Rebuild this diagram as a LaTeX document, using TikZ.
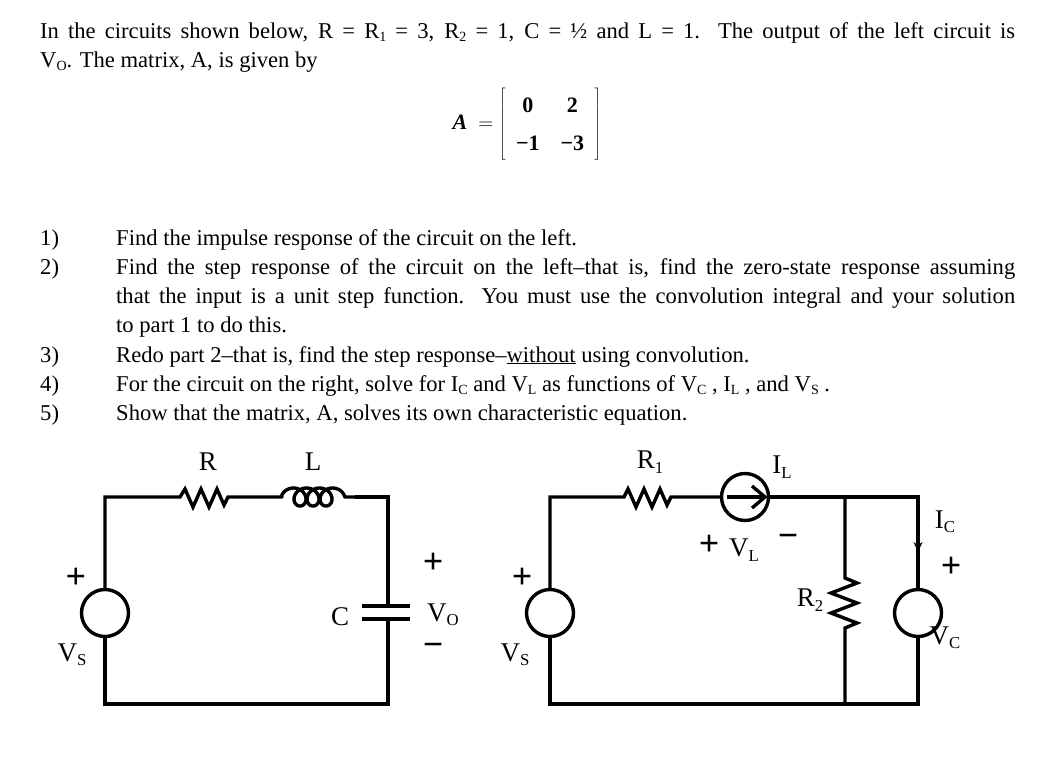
\documentclass[tikz,border=0pt]{standalone}
\usepackage{fontspec}
\setmainfont{Liberation Serif}
\usetikzlibrary{arrows.meta}
\newcommand{\sbs}[1]{\raisebox{-0.35ex}{\scalebox{0.62}{#1}}}
\begin{document}
\begin{tikzpicture}[x=1pt,y=-1pt,
  txt/.style={anchor=base west,inner sep=0pt,font=\fontsize{22.6}{29}\selectfont},
  lbl/.style={inner sep=0pt,font=\fontsize{27}{30}\selectfont},
  sgn/.style={inner sep=0pt,font=\fontsize{36}{36}\selectfont\bfseries},
  wire/.style={line width=3.4pt},
  src/.style={circle,draw,line width=3.4pt,minimum size=47pt,inner sep=0pt}]
\useasboundingbox (0,0) rectangle (1056,763);
% text
\node[txt] (t1) at (40,38) {\makebox[975pt][s]{In the circuits shown below, R = R\sbs{1} = 3, R\sbs{2} = 1, C = ½ and L = 1. The output of the left circuit is}};
\node[txt] (t2) at (40,67) {V\sbs{O}. The matrix, A, is given by};
\node[inner sep=0pt,font=\fontsize{22}{26}\selectfont\bfseries] (mat) at (527,124) {\renewcommand{\arraystretch}{1.45}\textbf{\textit{A}}\ \ $=\left[\ \begin{array}{cc}\textbf{0}\ \ & \textbf{2}\\ \textbf{\textminus1}\ \ & \textbf{\textminus3}\end{array}\ \right]$};
\foreach \n/\y in {1/245,2/274,3/362,4/391,5/420}{\node[txt] (n\n) at (40,\y) {\n)};}
\node[txt] (i1) at (116,245) {Find the impulse response of the circuit on the left.};
\node[txt] (i2a) at (116,274) {\makebox[899pt][s]{Find the step response of the circuit on the left–that is, find the zero-state response assuming}};
\node[txt] (i2b) at (116,303) {\makebox[899pt][s]{that the input is a unit step function. You must use the convolution integral and your solution}};
\node[txt] (i2c) at (116,332) {to part 1 to do this.};
\node[txt] (i3) at (116,362) {Redo part 2–that is, find the step response–\underline{without} using convolution.};
\node[txt] (i4) at (116,391) {For the circuit on the right, solve for I\sbs{C} and V\sbs{L} as functions of V\sbs{C} , I\sbs{L} , and V\sbs{S} .};
\node[txt] (i5) at (116,420) {Show that the matrix, A, solves its own characteristic equation.};
% left circuit
\node[src] (vs1) at (105,613) {};
\coordinate (a1) at (105,497); \coordinate (a2) at (388,497);
\coordinate (a3) at (388,704); \coordinate (a4) at (105,704);
\coordinate (c1) at (388,606); \coordinate (c2) at (388,619);
\draw[wire,line join=miter] (vs1.north) -- (a1) -- (180,497) -- (185,489) -- (193,507) -- (201,489) -- (209,507) -- (217,489) -- (224,505) -- (228,497) -- (272,497);
\draw[wire,line join=round] (272,497) -- (282.25,497) -- plot[domain=-1.5708:20.42,samples=150,smooth] ({293.5+2.07*\x+9*sin(\x r)},{497-9*cos(\x r)}) -- (355,497);
\draw[wire] (355,497) -- (a2) -- (c1);
\draw[wire] (362,606) -- (410,606); \draw[wire] (362,619) -- (410,619);
\draw[wire] (c2) -- (a3) -- (a4) -- (vs1.south);
\node[lbl] (R) at (208,462) {R};
\node[lbl] (L) at (313,462) {L};
\node[sgn] (p1) at (76,578) {+};
\node[lbl] (VS1) at (72,655) {V\sbs{S}};
\node[lbl] (C) at (340,617) {C};
\node[sgn] (p2) at (433,563) {+};
\node[lbl] (VO) at (443,615) {V\sbs{O}};
\node[sgn] (m2) at (433,650) {\textminus};
% right circuit
\node[src] (vs2) at (550,613) {};
\node[src] (il) at (745,497) {};
\node[src] (vc) at (918,613) {};
\coordinate (b1) at (550,497); \coordinate (b2) at (845,497); \coordinate (b3) at (918,497);
\coordinate (b4) at (918,704); \coordinate (b5) at (845,704); \coordinate (b6) at (550,704);
\draw[wire,line join=miter] (vs2.north) -- (b1) -- (624,497) -- (628,489) -- (636,507) -- (644,489) -- (652,507) -- (660,489) -- (667,505) -- (671,497) -- (il.west);
\draw[wire] (il.east) -- (b2) -- (b3) -- (vc.north);
\draw[wire] (vc.south) -- (b4) -- (b5) -- (b6) -- (vs2.south);
\draw[wire,line join=miter] (b2) -- (845,578) -- (857,583) -- (831,593) -- (857,603) -- (831,613) -- (857,623) -- (845,628) -- (b5);
\draw[wire] (727,497) -- (764,497);
\draw[wire,line join=miter] (752,486) -- (765,497) -- (752,508);
\draw[line width=2pt,-{Stealth[length=10pt,width=9pt]}] (918,520) -- (918,552);
\node[lbl] (R1) at (650,462) {R\sbs{1}};
\node[lbl] (IL) at (782,467) {I\sbs{L}};
\node[sgn] (p3) at (709,545) {+};
\node[lbl] (VL) at (744,550) {V\sbs{L}};
\node[sgn] (m3) at (788,541) {\textminus};
\node[lbl] (R2) at (810,600) {R\sbs{2}};
\node[lbl] (IC) at (945,522) {I\sbs{C}};
\node[sgn] (p4) at (951,567) {+};
\node[lbl] (VC) at (945,638) {V\sbs{C}};
\node[sgn] (p5) at (522,578) {+};
\node[lbl] (VS2) at (515,655) {V\sbs{S}};
\end{tikzpicture}
\end{document}
